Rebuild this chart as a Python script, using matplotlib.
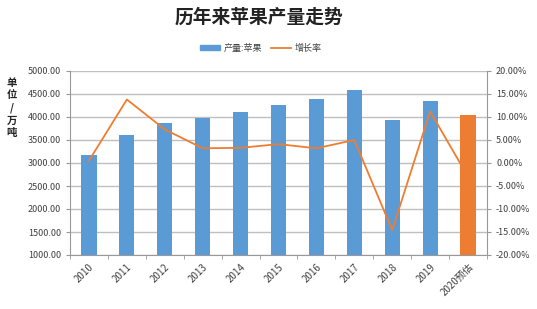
import matplotlib
matplotlib.use("Agg")
import matplotlib.pyplot as plt
from matplotlib.ticker import FuncFormatter, FixedLocator
import numpy as np

plt.rcParams['font.family'] = ['Noto Sans CJK SC', 'DejaVu Sans']

categories = ['2010', '2011', '2012', '2013', '2014', '2015', '2016', '2017', '2018', '2019', '2020预估']
production = [3170, 3600, 3860, 3975, 4100, 4270, 4390, 4595, 3935, 4355, 4045]
growth = [0.5, 13.8, 7.3, 3.2, 3.3, 4.1, 3.2, 5.0, -14.6, 11.2, -3.0]
bar_colors = ['#5B9BD5'] * 10 + ['#ED7D31']

fig = plt.figure(figsize=(5.37, 3.09), dpi=100)
ax = fig.add_axes([70/537, 1 - 255/309, (487-70)/537, (255-71)/309])
x = np.arange(len(categories))
ax.bar(x, [p - 1000 for p in production], bottom=1000, width=0.4, color=bar_colors, zorder=2)
ax.set_ylim(1000, 5000)
ax.set_xlim(-0.5, len(categories) - 0.5)
ax.set_yticks(np.arange(1000, 5001, 500))
ax.yaxis.set_major_formatter(FuncFormatter(lambda v, p: f"{v:.2f}"))
ax.grid(axis='y', color='#BFBFBF', linewidth=1.0, zorder=0)
ax.set_xticks(x)
ax.set_xticklabels(categories, rotation=45, ha='right', rotation_mode='anchor', fontsize=7, color='#404040')
ax.tick_params(axis='x', length=0, pad=5)
ax.xaxis.set_minor_locator(FixedLocator(np.arange(-0.5, len(categories), 1)))
ax.tick_params(axis='x', which='minor', length=3, color='#999999')
ax.tick_params(axis='y', labelsize=6.5, labelcolor='#404040', length=3, color='#999999')
for s in ['top', 'right']:
    ax.spines[s].set_visible(False)
ax.spines['left'].set_color('#999999')
ax.spines['bottom'].set_color('#999999')

ax2 = ax.twinx()
ax2.plot(x, growth, color='#ED7D31', linewidth=1.3, zorder=3)
ax2.set_ylim(-20, 20)
ax2.set_yticks(np.arange(-20, 21, 5))
ax2.yaxis.set_major_formatter(FuncFormatter(lambda v, p: f"{v:.2f}%"))
ax2.tick_params(axis='y', labelsize=6.5, labelcolor='#404040', length=3, color='#999999')
for s in ['top', 'left', 'bottom']:
    ax2.spines[s].set_visible(False)
ax2.spines['right'].set_color('#999999')

fig.text(259/537, 1 - 17/309, '历年来苹果产量走势', ha='center', va='center', fontsize=13.5, fontweight='bold', color='#222222')
fig.text(12/537, 1 - 108/309, '单\n位\n/\n万\n吨', ha='center', va='center', fontsize=7.5, fontweight='bold', linespacing=1.3, color='#222222')

from matplotlib.patches import Patch
from matplotlib.lines import Line2D
handles = [Patch(color='#5B9BD5', label='产量:苹果'), Line2D([0], [0], color='#ED7D31', lw=1.3, label='增长率')]
fig.legend(handles=handles, loc='center', bbox_to_anchor=(261/537, 1 - 48/309), ncol=2, frameon=False,
           fontsize=6.5, handlelength=2.2, handleheight=0.6, handletextpad=0.4, columnspacing=1.0, labelcolor='#404040')

fig.savefig('out.png', dpi=100, facecolor='white')
